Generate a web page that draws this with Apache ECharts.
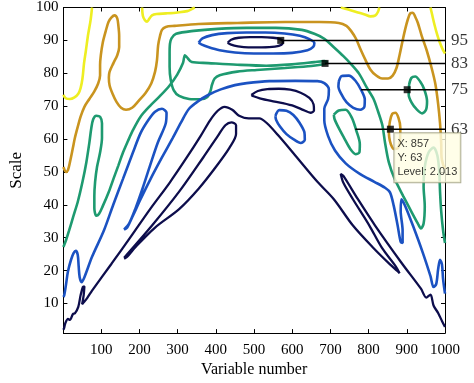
<!DOCTYPE html>
<html><head><meta charset="utf-8">
<script src="https://cdn.jsdelivr.net/npm/echarts@6/dist/echarts.min.js"></script>
<style>html,body{margin:0;padding:0;background:#fff}#c{width:474px;height:383px}</style>
</head><body><div id="c"></div>
<script>
// ---- axis ticks ----
const xTicks = [100,200,300,400,500,600,700,800,900,1000];
const yTicks = [10,20,30,40,50,60,70,80,90,100];

// ---- contour lines (x = variable number, y = scale) ----
const yellowLeft = [[76,100],[72,96],[66,92],[60,87],[55,83],[51,78.5],[46,75.5],[40,73.8],[30,72.7],[18,72.2],[9,72.3],[4,72.8],[1,73.5]];
const yellowTop = [[207,100],[209,97.5],[214,96.2],[220,95.7],[226,96.6],[233,97.6],[245,98],[270,98.2],[300,98.5],[325,98.9],[340,99.7],[345,100]];
const yellowDip = [[727,100],[747,99.4],[772,98.5],[790,97.9],[805,97.3],[818,97.6],[825,98.8],[828,100]];
const yellowRight = [[962,100],[966,98],[972,95],[979,92],[986,89.5],[993,87.5],[1000,86]];

const goldMain = [[1,51.5],[8,50],[13,50.6],[18,52.9],[26,57.4],[31,60.3],[39,63.9],[46,66.8],[56,69.8],[69,72.2],[82,74.5],[92,76.9],[97,79.3],[97,82.5],[99,85.5],[104,89.3],[112,92.9],[119,95.6],[127,97],[135,97.6],[142,96.7],[145,94.4],[147,91.4],[147,87.9],[142,85.5],[132,83.1],[122,80.5],[120,78.7],[122,76.3],[130,73.7],[140,71.3],[152,69.5],[165,68.9],[181,69.5],[198,71.6],[216,74],[231,76.9],[241,80.5],[246,84],[249,88.5],[254,91.4],[259,93.2],[269,94.1],[292,94.4],[355,95],[456,95.3],[582,95.6],[671,95.6],[722,95.3],[742,94.4],[754,92.9],[767,90.5],[780,87],[792,84],[805,81.1],[820,79.3],[836,78.4],[851,78.4],[863,79.3],[873,81.6],[881,85.5],[889,89.9],[896,93.5],[903,96.5],[909,98.2],[916,98.4],[922,97.2],[929,95.3],[939,91.4],[952,87],[965,81.6],[975,76.6],[982,70.7],[987,64.8],[990,58.9],[991,54.4],[995,52.2],[1000,51]];
const goldLoop = [[853,62.5],[856,65.5],[862,67.7],[870,68],[878,66.5],[883,63.5],[882,59.5],[876,57.2],[866,57],[858,58.5],[854,60.5],[853,62.5]];

const greenMain = [[1,27.2],[8,29.3],[16,32.2],[26,36.1],[39,41.1],[51,47],[61,52.9],[69,58.9],[74,63.3],[79,66],[87,67.1],[97,66.8],[102,64.8],[102,60.3],[97,55.9],[89,51.5],[84,47],[82,42.6],[82,39],[87,36.7],[94,37.2],[104,39.6],[120,44],[132,47.9],[145,52],[157,55.9],[170,59.4],[183,62.7],[203,66.8],[228,70.1],[254,73.1],[279,76.3],[299,79.6],[314,83.1],[319,85.5],[324,84.9],[337,83.4],[380,83.1],[456,82.6],[532,82.3],[608,82.8],[658,83.4],[684,83.7],[691,83.4],[684,82.8],[650,82.2],[582,81.6],[507,81],[456,80.5],[410,79.4],[397,78.4],[390,76.5],[386,74.6],[378,72.8],[360,72.1],[330,72.2],[304,73.1],[290,74.8],[282,78],[279,82],[279,86],[280,89],[284,90.6],[296,92],[342,92.9],[405,93.5],[481,93.8],[557,93.8],[625,93.2],[658,92],[684,90.5],[709,87.9],[734,85.2],[754,82.8],[775,79.9],[795,75.7],[813,72.2],[825,68.3],[836,64.2],[843,58.9],[853,52.9],[868,47.9],[891,42.6],[914,37.5],[929,34.3],[937,32.8],[944,34.3],[947,39.6],[944,45.5],[947,51.5],[957,55.9],[970,57.4],[980,55],[985,50],[987,44],[990,38.1],[995,32.2],[1000,28.4]];
const greenEllA = [[709,67.4],[722,68.7],[740,68.9],[756,66.5],[768,62.5],[777,58.5],[776,56],[766,55.4],[752,57],[736,60.3],[722,63.3],[711,66],[709,67.4]];
const greenEllB = [[906,76.5],[912,78.6],[922,79],[935,77.5],[946,75],[953,71.5],[950,68.8],[940,67.8],[926,69],[913,71],[905,73.5],[906,76.5]];

const blueMain = [[1,12],[3,12.4],[8,15.9],[13,19.8],[21,23.3],[28,25.4],[33.5,26],[38.5,24.8],[41,21.3],[43.6,18],[48.7,16.5],[56,18],[76,24.2],[107,32.2],[132,40.2],[157,47.9],[183,55.9],[203,61.8],[223,65.7],[241,68.3],[259,69.2],[271,68],[269,64.8],[248,58.9],[228,52],[208,44.9],[190,39],[173,34.3],[160,32.5],[168,33.1],[183,36.7],[203,41.7],[228,47.6],[259,54.4],[287,60.3],[309,65.1],[330,69.2],[355,71.6],[380,73.4],[413,75.1],[450,76.4],[481,77],[540,77.6],[608,77.7],[666,77.6],[684,77],[696,75.1],[694,72.2],[684,69.2],[684,65.7],[694,60.9],[712,56.5],[740,52.6],[777,49.4],[815,47],[843,45.2],[856,43.8],[866,39.6],[876,33.7],[884,28.7],[889,28.4],[889,32.2],[884,38.1],[886,41.7],[896,39.6],[916,33.7],[942,25.4],[962,18.3],[970,15],[977,15.9],[982,20.4],[987,23.3],[992,21.9],[995,17.4],[1000,13]];
const blueTopEll = [[355,89.3],[365,90.6],[390,91.6],[430,92.2],[480,92.4],[530,92.4],[580,92.1],[620,91.4],[645,90.4],[658,89.2],[655,88],[640,87],[600,86.2],[550,86],[500,86],[450,86.3],[410,87],[380,88],[362,88.8],[355,89.3]];
const blueEll1 = [[556,67],[566,68.8],[585,68.6],[603,67.3],[620,64.8],[632,62],[633,59.8],[622,58.8],[605,59.8],[585,61.5],[568,63.8],[558,65.8],[556,67]];
const blueEll2 = [[722,77.5],[730,79.2],[748,79.3],[765,77.8],[780,75],[790,72],[789,69.8],[778,68.9],[760,69.5],[742,71.2],[728,73.8],[721,76],[722,77.5]];

const navyOuter = [[1,2],[3,2.6],[6,4],[13,5.3],[18,5],[26,6.8],[31,7],[40,9],[46,12.5],[52,15],[56,15.2],[54,12.5],[50,9.8],[56,10.6],[64,11.8],[76,13.9],[127,22.1],[178,30.4],[228,38.7],[279,46.7],[324,54.4],[360,60.9],[385,65.7],[405,68.6],[423,69.8],[443,68.9],[461,67.1],[486,66.3],[514,66.3],[534,64.8],[565,60.9],[608,55],[666,47],[709,41.7],[759,33.7],[810,27.2],[856,21.9],[876,19.8],[881,19.2],[871,21.3],[835,26.9],[802,33.7],[759,41.7],[734,46.7],[727,49.4],[734,48.8],[772,41.7],[817,33.7],[886,22.4],[937,14.5],[951,11.8],[962,12.7],[970,9.4],[982,7.1],[992,4.7],[1000,2.9]];
const navyFingerL = [[160,23.9],[233,33.7],[304,44],[367,54.4],[405,60.9],[425,64.2],[441,65.1],[453,64.2],[453,61.5],[436,57.4],[400,51.5],[355,44.9],[304,38.7],[241,33.1],[190,27.2],[168,24.2],[160,23.6]];
const navyFingerTop = [[493,73.4],[510,74.6],[535,75.2],[565,75.3],[595,75],[622,74.1],[645,72.5],[656,70.5],[657,68.7],[648,68],[630,68.8],[605,70],[575,70.9],[545,71.6],[515,72.4],[499,73],[493,73.4]];
const navyTopEll = [[431,89.3],[440,90.2],[460,90.8],[490,91],[520,91],[550,90.8],[568,90.4],[576,89.6],[572,88.7],[555,88.1],[520,87.9],[485,87.9],[458,88.2],[440,88.7],[431,89.3]];

// ---- data cursors ----
const cursorX = [570, 686, 901, 857];
const cursorY = [90, 83, 75, 63];
const cursorLabels = ['95', '83', '75', '63'];
const cursorLineStart = [570, 686, 780, 765];
const tipValues = ['857', '63', '2.013'];

const COL = {yellow:'#eeee22', gold:'#c9941f', green:'#1e9a70', blue:'#1b52c2', navy:'#0d0d4c'};

const contours = [
  [yellowLeft, COL.yellow], [yellowTop, COL.yellow], [yellowDip, COL.yellow], [yellowRight, COL.yellow],
  [goldMain, COL.gold], [goldLoop, COL.gold],
  [greenMain, COL.green], [greenEllA, COL.green], [greenEllB, COL.green],
  [blueMain, COL.blue], [blueTopEll, COL.blue], [blueEll1, COL.blue], [blueEll2, COL.blue],
  [navyOuter, COL.navy], [navyFingerL, COL.navy], [navyFingerTop, COL.navy], [navyTopEll, COL.navy]
];

const series = contours.map(([d, c]) => ({
  type: 'line', data: d, showSymbol: false, symbol: 'none', smooth: 0.3,
  lineStyle: { color: c, width: c === COL.navy ? 2.3 : 2.6 }, silent: true, z: 2, animation: false
}));

cursorY.forEach((y, i) => {
  series.push({ type: 'line', data: [[cursorLineStart[i], y], [1000, y]], symbol: 'none', showSymbol: false,
    lineStyle: { color: '#000', width: 1.5 }, silent: true, z: 3, animation: false });
});

series.push({ type: 'scatter', data: cursorX.map((x, i) => [x, cursorY[i]]), symbol: 'rect', symbolSize: 7,
  itemStyle: { color: '#000' }, z: 4, silent: true, animation: false, clip: false });

series.push({ type: 'scatter', symbolSize: 0, clip: false, z: 5, silent: true, animation: false,
  data: cursorY.map((y, i) => ({ value: [1000, y], label: { formatter: cursorLabels[i] } })),
  label: { show: true, position: 'right', distance: 6, fontFamily: 'Liberation Serif', fontSize: 17, color: '#000' } });

series.push({ type: 'scatter', symbol: 'rect', symbolSize: 8, clip: false, z: 10, silent: true, animation: false,
  itemStyle: { color: 'rgba(0,0,0,0)' },
  data: [[cursorX[3], cursorY[3]]],
  label: { show: true, position: [8, 8], formatter: 'X: ' + tipValues[0] + '\nY: ' + tipValues[1] + '\nLevel: ' + tipValues[2],
    fontFamily: 'Liberation Sans', fontSize: 11, lineHeight: 14, color: '#000', align: 'left', verticalAlign: 'top',
    backgroundColor: '#fffee4', borderColor: '#9a9a7a', borderWidth: 1, padding: [4, 3, 3, 3] } });

const tickStyle = { show: true, inside: true, length: 4, lineStyle: { color: '#000', width: 1 } };
const lineStyleAx = { show: true, lineStyle: { color: '#000', width: 1 } };
const labelFont = { fontFamily: 'Liberation Serif', fontSize: 15, color: '#000', formatter: v => String(v) };

const option = {
  animation: false,
  backgroundColor: '#fff',
  grid: { left: 51, right: 29, top: 6, bottom: 43, containLabel: false },
  xAxis: [
    { type: 'value', min: 1, max: 1000, position: 'bottom', axisLine: lineStyleAx,
      axisTick: Object.assign({ customValues: xTicks }, tickStyle),
      axisLabel: Object.assign({ customValues: xTicks, margin: 9 }, labelFont),
      splitLine: { show: false },
      name: 'Variable number', nameLocation: 'middle', nameGap: 28,
      nameTextStyle: { fontFamily: 'Liberation Serif', fontSize: 16, color: '#000' } },
    { type: 'value', min: 1, max: 1000, position: 'top', axisLine: lineStyleAx,
      axisTick: Object.assign({ customValues: xTicks }, tickStyle),
      axisLabel: { show: false }, splitLine: { show: false } }
  ],
  yAxis: [
    { type: 'value', min: 1, max: 100, position: 'left', axisLine: lineStyleAx,
      axisTick: Object.assign({ customValues: yTicks }, tickStyle),
      axisLabel: Object.assign({ customValues: yTicks, margin: 5 }, labelFont),
      splitLine: { show: false },
      name: 'Scale', nameLocation: 'middle', nameGap: 31,
      nameTextStyle: { fontFamily: 'Liberation Serif', fontSize: 17, color: '#000' } },
    { type: 'value', min: 1, max: 100, position: 'right', axisLine: lineStyleAx,
      axisTick: Object.assign({ customValues: yTicks }, tickStyle),
      axisLabel: { show: false }, splitLine: { show: false } }
  ],
  series: series
};

const chart = echarts.init(document.getElementById('c'), null, { renderer: 'canvas' });
chart.setOption(option);
</script></body></html>
